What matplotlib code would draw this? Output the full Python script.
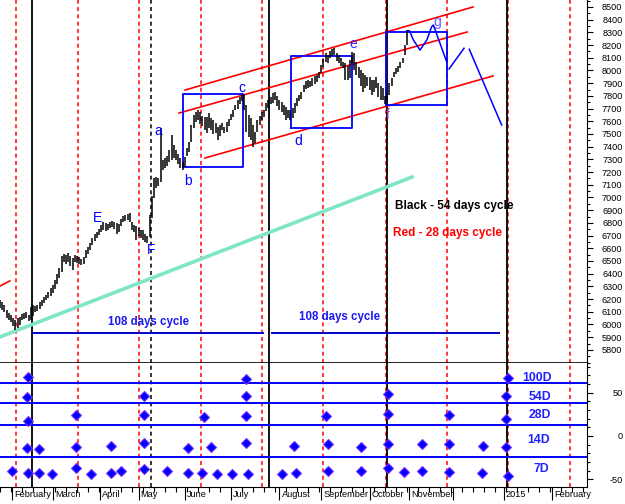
import numpy as np
import matplotlib.pyplot as plt
import matplotlib.transforms as mtransforms
from matplotlib.ticker import MultipleLocator, FixedLocator

plt.rcParams['font.family'] = ['Liberation Sans', 'DejaVu Sans']
plt.rcParams['axes.unicode_minus'] = False

# bars: trading-day index (0 = left edge, late Jan 2014)
highs = [6193, 6177, 6153, 6114, 6090, 6075, 6051, 6035, 6051, 6059,
         6083, 6090, 6098, 6075, 6138, 6153, 6145, 6153, 6177, 6193,
         6216, 6232, 6256, 6287, 6311, 6350, 6398, 6445, 6539, 6555,
         6547, 6563, 6539, 6524, 6547, 6539, 6531, 6516, 6531, 6587,
         6610, 6642, 6681, 6712, 6728, 6752, 6783, 6807, 6799, 6791,
         6807, 6815, 6807, 6799, 6791, 6831, 6854, 6862, 6870, 6878,
         6807, 6783, 6775, 6760, 6744, 6744, 6712, 6697, 6862, 7012,
         7153, 7161, 7153, 7547, 7295, 7311, 7327, 7374, 7492, 7413,
         7374, 7342, 7311, 7279, 7319, 7390, 7437, 7571, 7650, 7673,
         7689, 7673, 7642, 7634, 7634, 7665, 7626, 7610, 7587, 7555,
         7571, 7587, 7555, 7594, 7618, 7657, 7689, 7728, 7768, 7791,
         7807, 7815, 7728, 7650, 7626, 7571, 7516, 7610, 7642, 7673,
         7689, 7744, 7768, 7791, 7823, 7831, 7799, 7768, 7752, 7728,
         7712, 7689, 7689, 7705, 7744, 7783, 7807, 7831, 7886, 7917,
         7925, 7917, 7941, 7957, 7964, 7988, 8043, 8090, 8138, 8122,
         8153, 8169, 8177, 8138, 8122, 8098, 8067, 8059, 8035, 8083,
         8146, 8138, 8067, 8027, 8004, 7980, 7964, 7949, 7949, 7925,
         7925, 7949, 7901, 7878, 7862, 7799, 7823, 7901, 7941, 7988,
         8020, 8035, 8067, 8098, 8201, 8319]
lows = [6130, 6114, 6098, 6051, 6035, 6020, 5988, 5957, 5972, 5996,
        6035, 6043, 6051, 6027, 6035, 6067, 6098, 6106, 6122, 6145,
        6169, 6193, 6209, 6224, 6248, 6279, 6319, 6366, 6413, 6492,
        6476, 6492, 6461, 6429, 6492, 6484, 6476, 6468, 6476, 6524,
        6555, 6587, 6626, 6657, 6681, 6705, 6728, 6744, 6736, 6744,
        6760, 6768, 6752, 6712, 6728, 6775, 6807, 6815, 6823, 6807,
        6744, 6728, 6665, 6697, 6681, 6665, 6650, 6642, 6689, 6838,
        6996, 7075, 7090, 7122, 7216, 7232, 7248, 7279, 7295, 7311,
        7295, 7264, 7232, 7216, 7240, 7327, 7358, 7437, 7547, 7594,
        7610, 7579, 7563, 7531, 7508, 7547, 7531, 7500, 7508, 7453,
        7484, 7531, 7508, 7516, 7563, 7610, 7634, 7689, 7697, 7736,
        7760, 7689, 7516, 7476, 7453, 7398, 7429, 7516, 7571, 7610,
        7634, 7681, 7705, 7736, 7744, 7768, 7720, 7689, 7673, 7650,
        7610, 7626, 7610, 7626, 7665, 7720, 7760, 7775, 7831, 7854,
        7862, 7870, 7878, 7894, 7909, 7941, 7980, 8027, 8067, 8059,
        8098, 8114, 8122, 8075, 8059, 8035, 8020, 7925, 7925, 7941,
        8059, 8004, 7964, 7941, 7878, 7831, 7862, 7878, 7846, 7807,
        7831, 7862, 7791, 7768, 7768, 7736, 7752, 7807, 7878, 7949,
        7972, 7988, 8020, 8059, 8122, 8201]
bar_idx = np.arange(len(highs))

month_pos = [5.5, 24, 45.5, 63, 84, 105, 127, 146, 168, 186, 206, 229, 251]
month_lbl = ['February', 'March', 'April', 'May', 'June', 'July', 'August',
             'September', 'October', 'November', '', '2015', 'February']

red_cycle = [7.3, 35.5, 63.2, 91.4, 119.0, 146.8, 175.5, 203.0, 231.0, 259.0]
black_cycle = [14.4, 122.1, 176.0, 230.4]
black_dashed = [68.5]

# channel (x0, x1, p0, p1)
channel = [(84.1, 215.0, 7846, 8500),
           (81.4, 212.3, 7665, 8303),
           (93.2, 224.1, 7311, 7957),
           (0.0, 4.5, 6303, 6343)]
trend_x = [0, 187.3]
trend_p = [5902, 7161]

# boxes (x0, x1, low, high)
boxes = [(83.3, 110.6, 7238, 7812),
         (132.3, 159.8, 7548, 8114),
         (175.3, 203.0, 7726, 8303)]

proj1_x = [185.1, 186.1, 187.9, 190.9, 194.0, 196.2, 197.0, 203.0]
proj1_p = [8313, 8313, 8240, 8161, 8240, 8345, 8358, 8069]
proj2_x = [204.1, 210.9]
proj2_p = [8012, 8175]
proj3_x = [213.3, 228.0]
proj3_p = [8167, 7571]

cyc108_x = [(15.0, 119.5), (123.6, 226.8)]
cyc108_p = 5933
cyc108_txt = [(67.3, 6020), (154.5, 6059)]

wave_lbl = ['a', 'b', 'c', 'd', 'e', 'f', 'g', 'E', 'F']
wave_x = [71.8, 85.5, 110.0, 135.5, 160.5, 176.3, 198.6, 44.5, 68.6]
wave_p = [7524, 7130, 7862, 7445, 8209, 7650, 8382, 6839, 6587]
wave_col = ['#0000ff', '#0000ff', '#0000ff', '#0000ff', '#2a2aff',
            '#a040d0', '#6a5aff', '#0000ff', '#0000ff']

# lower panel rows
rows_x = {
    '100D': [12.9, 111.7, 230.8],
    '54D': [12.1, 65.6, 111.7, 176.2, 229.9],
    '28D': [12.9, 34.4, 65.6, 92.9, 111.7, 148.0, 176.2, 204.1, 229.9],
    '14D': [12.1, 17.9, 34.4, 50.3, 65.6, 85.3, 95.9, 111.7, 133.8, 149.0,
            164.0, 176.2, 191.7, 204.1, 219.7, 229.9],
    '7D': [5.3, 12.9, 17.9, 23.8, 34.4, 41.2, 50.3, 54.9, 65.6, 75.8, 85.3,
           92.0, 98.8, 105.6, 112.9, 128.0, 134.5, 149.0, 164.0, 176.2,
           183.8, 191.7, 204.1, 219.0, 230.8],
}
rows_v = {
    '100D': [68.5, 65.5, 67.3],
    '54D': [45.4, 46.5, 46.5, 48.2, 46.5],
    '28D': [17.7, 24.2, 24.2, 22.3, 23.4, 23.1, 25.4, 24.2, 19.3],
    '14D': [-13.5, -15, -12.4, -11.2, -8.4, -13.5, -12.4, -7.7, -11.2, -9.6,
            -12.4, -9.2, -9.6, -9.2, -11.2, -12.4],
    '7D': [-40, -42.4, -42.4, -44.2, -37.3, -44.2, -42.4, -40, -38.5, -40.4,
           -42.4, -42.4, -44.2, -44.2, -44.2, -44.2, -42.4, -40, -40, -36.6,
           -41.2, -40, -41.2, -42.4, -45.8],
}
row_lbl_pos = {'100D': (244.3, 67.3), '54D': (245.2, 44.7), '28D': (245.2, 24.2),
               '14D': (245.0, -4.6), '7D': (246.1, -38.5)}
row_bounds = [61.6, 38.4, 12.8, -24.4]

fig = plt.figure(figsize=(6.25, 5.04), dpi=100)
ax = fig.add_axes([0, 0.2798, 0.9392, 0.7202])
ax2 = fig.add_axes([0, 0.0337, 0.9392, 0.2461], sharex=ax)

xmax = 266.8
for a in (ax, ax2):
    for xv in red_cycle:
        a.axvline(xv, color='red', lw=1.1, ls=(0, (2.6, 2.2)), zorder=1)
    for xv in black_cycle:
        a.axvline(xv, color='black', lw=1.3, zorder=1)
    for xv in black_dashed:
        a.axvline(xv, color='black', lw=1.1, ls=(0, (2.6, 2.2)), zorder=1)

# price panel
ax.vlines(bar_idx, lows, highs, color='black', lw=1.1, zorder=4)
for x0, x1, p0, p1 in channel:
    ax.plot([x0, x1], [p0, p1], color='red', lw=1.2, zorder=3)
ax.plot(trend_x, trend_p, color='#7ee6c6', lw=2.6, zorder=2)
for x0, x1, lo, hi in boxes:
    ax.plot([x0, x1, x1, x0, x0], [lo, lo, hi, hi, lo], color='#0000ff', lw=1.3, zorder=3)
for px, pp in ((proj1_x, proj1_p), (proj2_x, proj2_p), (proj3_x, proj3_p)):
    ax.plot(px, pp, color='#0000ff', lw=1.1, zorder=3)
for (x0, x1), (tx, tp) in zip(cyc108_x, cyc108_txt):
    ax.plot([x0, x1], [cyc108_p, cyc108_p], color='#0000cc', lw=1.4, zorder=3)
    ax.text(tx, tp, '108 days cycle', color='#1a1aee', fontsize=8.3,
            fontweight='bold', ha='center', va='center', zorder=5)
for lbl, xv, pv, c in zip(wave_lbl, wave_x, wave_p, wave_col):
    ax.text(xv, pv, lbl, color=c, fontsize=10,
            ha='center', va='center', zorder=6)
ax.text(179.5, 6933, 'Black - 54 days cycle', color='black', fontsize=8.5,
        fontweight='bold', ha='left', va='center', zorder=5)
ax.text(178.6, 6720, 'Red - 28 days cycle', color='red', fontsize=8.5,
        fontweight='bold', ha='left', va='center', zorder=5)

ax.set_xlim(0, xmax)
ax.set_ylim(5697, 8555)
ax.yaxis.tick_right()
ax.set_yticks([v for v in range(5800, 8501, 100)])
ax.yaxis.set_minor_locator(MultipleLocator(50))
ax.tick_params(axis='y', which='major', direction='out', length=4, width=0.8,
               labelsize=6.6, pad=21.5)
ax.tick_params(axis='y', which='minor', direction='out', length=2.5, width=0.8)
for t in ax.get_yticklabels():
    t.set_ha('right')
ax.tick_params(axis='x', which='both', bottom=False, labelbottom=False)
for s in ('left', 'top'):
    ax.spines[s].set_visible(False)
ax.spines['bottom'].set_linewidth(1.2)
ax.spines['right'].set_linewidth(0.8)

# cycle panel
for v in row_bounds:
    ax2.axhline(v, color='#0000ff', lw=1.4, zorder=2)
for key in rows_x:
    ax2.plot(rows_x[key], rows_v[key], ls='none', marker='D', ms=5.5,
             mfc='#0000ff', mec='#7a30ff', mew=0.8, zorder=5)
    lx, lv = row_lbl_pos[key]
    ax2.text(lx, lv, key, color='#2020ff', fontsize=8.8, fontweight='bold',
             ha='center', va='center', zorder=5)
ax2.set_ylim(-58.9, 84.3)
ax2.yaxis.tick_right()
ax2.set_yticks([-50, 0, 50])
ax2.yaxis.set_minor_locator(MultipleLocator(10))
ax2.tick_params(axis='y', which='major', direction='out', length=4, width=0.8,
                labelsize=6.6, pad=21.5)
ax2.tick_params(axis='y', which='minor', direction='out', length=2.5, width=0.8)
for t in ax2.get_yticklabels():
    t.set_ha('right')

ax2.xaxis.set_major_locator(FixedLocator(month_pos))
ax2.set_xticklabels(month_lbl)
ax2.xaxis.set_minor_locator(MultipleLocator(5))
ax2.tick_params(axis='x', which='major', direction='out', length=9, width=0.8,
                labelsize=6.6, pad=-7)
ax2.tick_params(axis='x', which='minor', direction='out', length=3.5, width=0.8)
offset = mtransforms.ScaledTranslation(1.5 / 72, 0, fig.dpi_scale_trans)
for t in ax2.get_xticklabels():
    t.set_ha('left')
    t.set_transform(t.get_transform() + offset)
for s in ('left', 'top'):
    ax2.spines[s].set_visible(False)
ax2.spines['bottom'].set_linewidth(0.8)
ax2.spines['right'].set_linewidth(0.8)
ax2.set_xlim(0, xmax)

fig.savefig('out.png', dpi=100)
